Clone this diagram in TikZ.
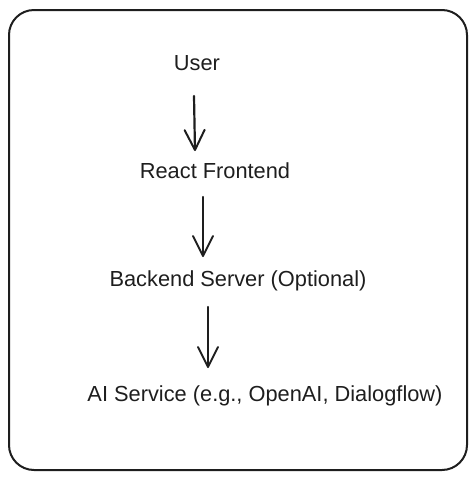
\documentclass[tikz,border=0pt]{standalone}
\usepackage{fontspec}
\setmainfont{Liberation Sans}
\usetikzlibrary{arrows.meta}
\definecolor{ink}{HTML}{1E1E1E}
\begin{document}
\begin{tikzpicture}[x=1pt,y=-1pt,
  lbl/.style={text=ink,inner sep=0pt,font=\fontsize{21.8}{26}\selectfont},
  arr/.style={draw=ink,line width=2.2pt,line cap=round,-{Straight Barb[length=20pt,width=20pt,line width=2pt,round]}},
  frame/.style={draw=ink,line width=2pt,rounded corners=25pt}]
\useasboundingbox (0,0) rectangle (476,480);
\draw[frame] (9,10) rectangle (467,470);
\node[lbl] (user) at (197,63) {User};
\node[lbl] (react) at (215,171) {React Frontend};
\node[lbl] (back) at (238,281) {Backend Server (Optional)};
\node[lbl] (ai) at (265,396) {AI Service (e.g., OpenAI, Dialogflow)};
\coordinate (a1s) at ([shift={(-3,33)}]user.center);
\coordinate (a1e) at ([shift={(-20,-20)}]react.center);
\coordinate (a2s) at ([shift={(-12,26)}]react.center);
\coordinate (a2e) at ([shift={(-35,-24)}]back.center);
\coordinate (a3s) at ([shift={(-30,26)}]back.center);
\coordinate (a3e) at ([shift={(-57,-28)}]ai.center);
\draw[arr] (a1s) -- (a1e);
\draw[arr] (a2s) -- (a2e);
\draw[arr] (a3s) -- (a3e);
\end{tikzpicture}
\end{document}
